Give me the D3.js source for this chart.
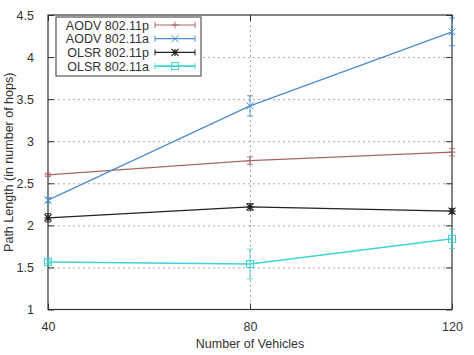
<!DOCTYPE html>
<html><head><meta charset="utf-8">
<script src="https://cdn.jsdelivr.net/npm/d3@7"></script>
<style>
html,body{margin:0;padding:0;background:#fff;}
svg text{font-family:"Liberation Sans",Arial,sans-serif;fill:#333;}
</style></head><body>
<svg id="c" width="474" height="355"></svg>
<script>
const xValues = [40, 80, 120];
const seriesNames = ["AODV 802.11p", "AODV 802.11a", "OLSR 802.11p", "OLSR 802.11a"];
const aodv11p = [2.60, 2.77, 2.87];
const aodv11pErr = [0.02, 0.045, 0.045];
const aodv11a = [2.30, 3.42, 4.30];
const aodv11aErr = [0.03, 0.12, 0.165];
const olsr11p = [2.09, 2.22, 2.17];
const olsr11pErr = [0.05, 0.04, 0.03];
const olsr11a = [1.565, 1.54, 1.84];
const olsr11aErr = [0.02, 0.177, 0.115];
const yTicks = [1, 1.5, 2, 2.5, 3, 3.5, 4, 4.5];
const xTicks = [40, 80, 120];
const colors = ["#a86662", "#4a8ccc", "#222222", "#3fd3d3"];
const markers = ["plus", "cross", "star", "square"];

const series = [
  {name: seriesNames[0], v: aodv11p, e: aodv11pErr},
  {name: seriesNames[1], v: aodv11a, e: aodv11aErr},
  {name: seriesNames[2], v: olsr11p, e: olsr11pErr},
  {name: seriesNames[3], v: olsr11a, e: olsr11aErr}
];

const svg = d3.select("#c");
const L = 48, R = 452, T = 15, B = 309.5;
const x = d3.scaleLinear().domain([40, 120]).range([L, R]);
const y = d3.scaleLinear().domain([1, 4.5]).range([B, T]);

// grid
const g = svg.append("g");
g.selectAll(".hg").data(yTicks.filter(d => d > 1 && d < 4.5)).enter().append("line")
  .attr("x1", L).attr("x2", R).attr("y1", d => y(d) + 0.5).attr("y2", d => y(d) + 0.5)
  .attr("stroke", "#aaa").attr("stroke-width", 1).attr("stroke-dasharray", "2,3");
g.selectAll(".vg").data(xTicks.filter(d => d > 40 && d < 120)).enter().append("line")
  .attr("x1", d => x(d) + 0.5).attr("x2", d => x(d) + 0.5).attr("y1", T).attr("y2", B)
  .attr("stroke", "#aaa").attr("stroke-width", 1).attr("stroke-dasharray", "2,3");

// axes with inward ticks
const axL = d3.axisLeft(y).tickValues(yTicks).tickSizeInner(-6).tickSizeOuter(0).tickPadding(14).tickFormat(d3.format("~g"));
const axR = d3.axisRight(y).tickValues(yTicks).tickSizeInner(-6).tickSizeOuter(0).tickFormat("");
const axB = d3.axisBottom(x).tickValues(xTicks).tickSizeInner(-6).tickSizeOuter(0).tickPadding(13);
const axT = d3.axisTop(x).tickValues(xTicks).tickSizeInner(-6).tickSizeOuter(0).tickFormat("");
function styleAxis(sel) {
  sel.select(".domain").remove();
  sel.selectAll("line").attr("stroke", "#333");
  sel.selectAll("text").attr("font-size", 12.5).attr("fill", "#333")
     .attr("font-family", "'Liberation Sans',Arial,sans-serif");
}
svg.append("g").attr("transform", `translate(${L},0)`).call(axL).call(styleAxis);
svg.append("g").attr("transform", `translate(${R},0)`).call(axR).call(styleAxis);
svg.append("g").attr("transform", `translate(0,${B})`).call(axB).call(styleAxis);
svg.append("g").attr("transform", `translate(0,${T})`).call(axT).call(styleAxis);

// frame
svg.append("rect").attr("x", L).attr("y", T).attr("width", R - L).attr("height", B - T)
  .attr("fill", "none").attr("stroke", "#333").attr("stroke-width", 1.2);

function drawMarker(sel, type, cx, cy, color) {
  const s = 3.5;
  if (type === "plus") {
    sel.append("path").attr("d", `M${cx - s},${cy}H${cx + s}M${cx},${cy - s}V${cy + s}`).attr("stroke", color).attr("stroke-width", 1);
  } else if (type === "cross") {
    sel.append("path").attr("d", `M${cx - s},${cy - s}L${cx + s},${cy + s}M${cx - s},${cy + s}L${cx + s},${cy - s}`).attr("stroke", color).attr("stroke-width", 1);
  } else if (type === "star") {
    sel.append("path").attr("d", `M${cx - s},${cy}H${cx + s}M${cx},${cy - s}V${cy + s}M${cx - s},${cy - s}L${cx + s},${cy + s}M${cx - s},${cy + s}L${cx + s},${cy - s}`).attr("stroke", color).attr("stroke-width", 1.2);
  } else if (type === "square") {
    sel.append("rect").attr("x", cx - s).attr("y", cy - s).attr("width", 2 * s).attr("height", 2 * s)
      .attr("fill", "none").attr("stroke", color).attr("stroke-width", 1);
  }
}

const line = d3.line().x(d => x(d[0])).y(d => y(d[1]));
series.forEach((s, i) => {
  const gs = svg.append("g");
  const pts = xValues.map((xv, j) => [xv, s.v[j], s.e[j]]);
  gs.append("path").datum(pts).attr("d", line).attr("fill", "none")
    .attr("stroke", colors[i]).attr("stroke-width", i === 3 ? 1.6 : 1.2);
  pts.forEach(p => {
    const cx = x(p[0]), y1 = y(p[1] + p[2]), y2 = y(p[1] - p[2]);
    gs.append("path").attr("d", `M${cx},${y1}V${y2}M${cx - 3},${y1}H${cx + 3}M${cx - 3},${y2}H${cx + 3}`)
      .attr("stroke", colors[i]).attr("stroke-width", 1).attr("fill", "none").attr("opacity", 0.85);
    drawMarker(gs, markers[i], cx, y(p[1]), colors[i]);
  });
});

// legend
const lg = svg.append("g");
const lgX = 56, lgY = 17, lgW = 145, lgH = 59, rowH = 13.7;
lg.append("rect").attr("x", lgX).attr("y", lgY).attr("width", lgW).attr("height", lgH)
  .attr("fill", "#fff").attr("stroke", "#555").attr("stroke-width", 1.2);
series.forEach((s, i) => {
  const cy = lgY + 8 + i * rowH;
  lg.append("text").attr("x", 149).attr("y", cy + 4.5).attr("text-anchor", "end")
    .attr("font-size", 12.5).text(s.name);
  lg.append("line").attr("x1", 155).attr("x2", 195).attr("y1", cy).attr("y2", cy)
    .attr("stroke", colors[i]).attr("stroke-width", i === 3 ? 1.6 : 1.2);
  lg.append("path").attr("d", `M155,${cy - 3}V${cy + 3}M195,${cy - 3}V${cy + 3}`).attr("stroke", colors[i]).attr("stroke-width", 1);
  drawMarker(lg, markers[i], 175, cy, colors[i]);
});

// axis titles
svg.append("text").attr("x", (L + R) / 2).attr("y", 348).attr("text-anchor", "middle")
  .attr("font-size", 12.5).text("Number of Vehicles");
svg.append("text").attr("transform", `translate(13,${(T + B) / 2}) rotate(-90)`).attr("text-anchor", "middle")
  .attr("font-size", 12.5).text("Path Length (in number of hops)");
</script>
</body></html>
